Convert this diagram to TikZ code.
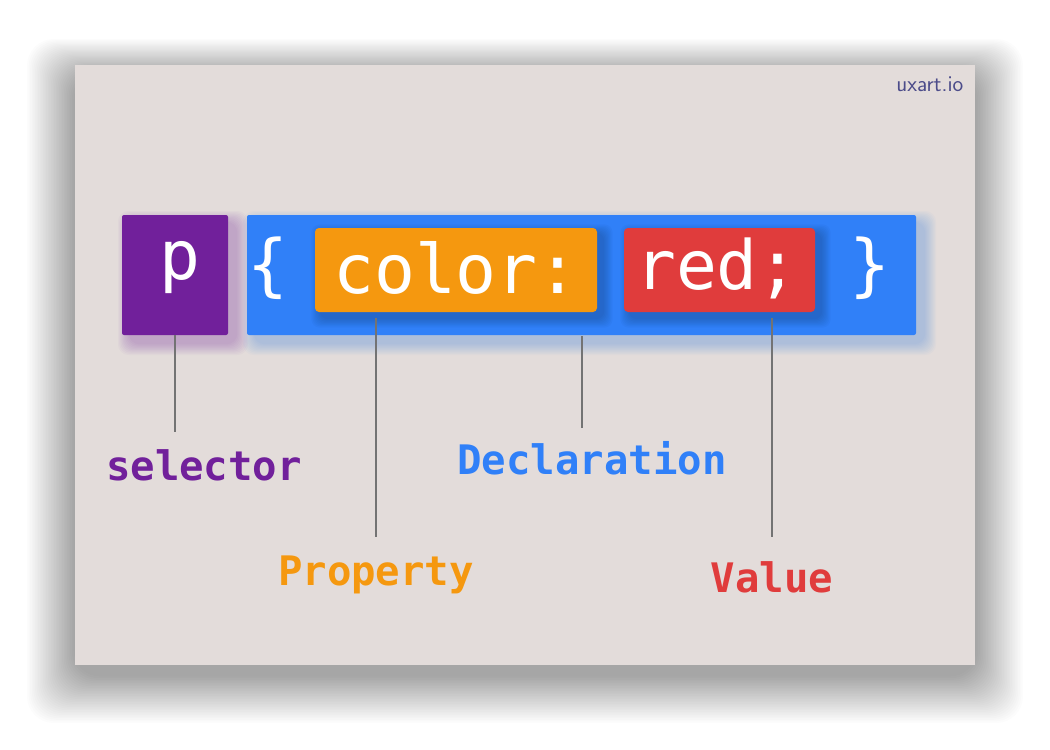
\documentclass[tikz,border=0pt]{standalone}
\usepackage{fontspec}
\setmonofont{DejaVu Sans Mono}
\begin{document}
\begin{tikzpicture}[x=0.75pt,y=-0.75pt,
  lbl/.style={font=\fontsize{30.5}{31}\selectfont\ttfamily\bfseries},
  big/.style={text=white,font=\fontsize{51}{52}\selectfont\ttfamily},
  lead/.style={draw=black!55,line width=1.2pt}]
\definecolor{card}{HTML}{E3DCDA}
\definecolor{pur}{HTML}{71209B}
\definecolor{blu}{HTML}{3080F8}
\definecolor{ora}{HTML}{F5980F}
\definecolor{redd}{HTML}{E03C3C}
\useasboundingbox (0,0) rectangle (1050,750);
\fill[white] (0,0) rectangle (1050,750);
% shadow
\foreach \i in {1,...,30}{
  \fill[black,opacity=0.012,rounded corners=20] (75-\i*1.6,65-\i*1.2+10) rectangle (975+\i*1.6,665+\i*1.6+10);
}
\fill[card] (75,65) rectangle (975,665);
\node[text=black!40!blue!40!gray,font=\fontsize{17}{18}\selectfont\sffamily,anchor=east] (wm) at (968,84) {uxart.io};
% glows
\foreach \i in {1,...,10}{
  \fill[blu,opacity=0.03,rounded corners=8] (247+8-\i*1.2,215+8-\i*1.2) rectangle (916+8+\i*1.2,335+8+\i*1.2);
  \fill[pur,opacity=0.03,rounded corners=8] (122+8-\i*1.2,215+8-\i*1.2) rectangle (228+8+\i*1.2,335+8+\i*1.2);
}
\fill[pur,rounded corners=1.5] (122,215) rectangle (228,335);
\coordinate (pb) at (175,335);
\fill[blu,rounded corners=1.5] (247,215) rectangle (916,335);
\foreach \i in {1,...,8}{
  \fill[black,opacity=0.025,rounded corners=6] (315+6-\i*1.2,228+6-\i*1.2) rectangle (597+6+\i*1.2,312+6+\i*1.2);
  \fill[black,opacity=0.025,rounded corners=6] (624+6-\i*1.2,228+6-\i*1.2) rectangle (815+6+\i*1.2,312+6+\i*1.2);
}
\fill[ora,rounded corners=3] (315,228) rectangle (597,312);
\fill[redd,rounded corners=3] (624,228) rectangle (815,312);
\node[big] (p) at (180,268) {p};
\node[big] (ob) at (268,268) {\{};
\node[big] (col) at (456,268) {color:};
\node[big] (red) at (717,268) {red;};
\node[big] (cb) at (870,268) {\}};
% labels
\node[lbl,text=pur] (sel) at (204,465) {selector};
\node[lbl,text=blu] (dec) at (592,458) {Declaration};
\node[lbl,text=ora] (prop) at (376,575) {Property};
\node[lbl,text=redd] (val) at (772,577) {Value};
\coordinate (d1) at (582,336);
\coordinate (p1) at (376,318);
\coordinate (v1) at (772,318);
\draw[lead] (pb) -- (175,432);
\draw[lead] (p1) -- (376,537);
\draw[lead] (d1) -- (582,428);
\draw[lead] (v1) -- (772,537);
\end{tikzpicture}
\end{document}
